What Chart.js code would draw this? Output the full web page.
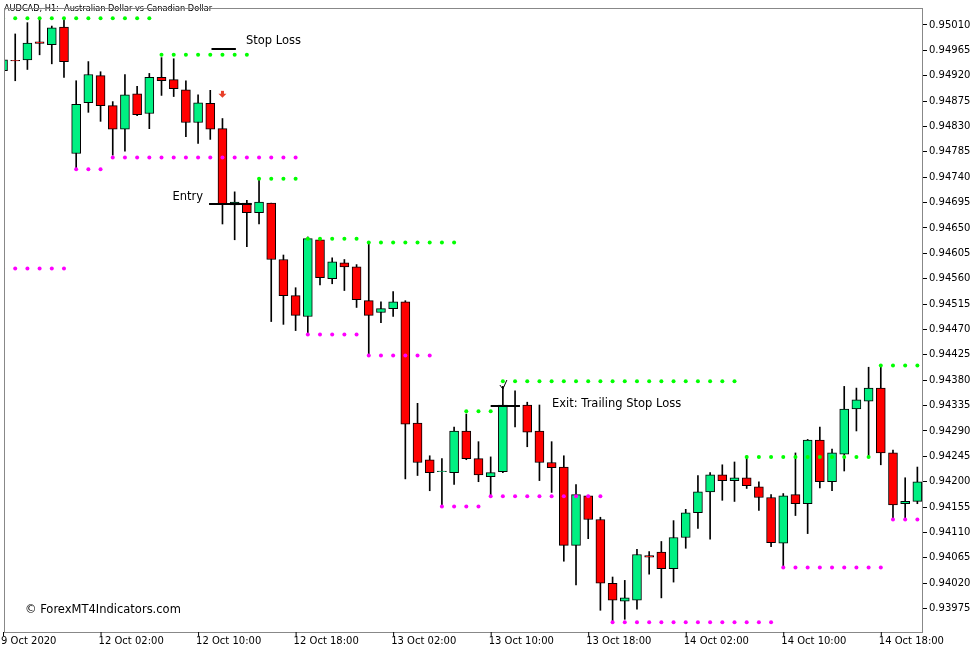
<!DOCTYPE html>
<html><head><meta charset="utf-8">
<script src="https://cdn.jsdelivr.net/npm/chart.js@4"></script>
<style>html,body{margin:0;padding:0;background:#fff}#w{width:977px;height:652px}</style>
</head><body><div id="w"><canvas id="c"></canvas></div>
<script>
const opens  = [0.94929,0.94947,0.94948,0.94980,0.94975,0.95006,0.94782,0.94872,0.94920,0.94867,0.94825,0.94888,0.94853,0.94917,0.94913,0.94895,0.94837,0.94871,0.94826,0.94691,0.94694,0.94677,0.94694,0.94594,0.94530,0.94493,0.94629,0.94560,0.94588,0.94581,0.94521,0.94500,0.94507,0.94519,0.94304,0.94239,0.94218,0.94216,0.94290,0.94241,0.94209,0.94218,0.94334,0.94336,0.94290,0.94234,0.94226,0.94087,0.94175,0.94133,0.94020,0.93988,0.93990,0.94069,0.94075,0.94046,0.94101,0.94145,0.94182,0.94212,0.94202,0.94207,0.94191,0.94172,0.94091,0.94177,0.94161,0.94274,0.94200,0.94249,0.94329,0.94343,0.94366,0.94251,0.94161,0.94165];
const highs  = [0.94952,0.94994,0.95014,0.95019,0.95008,0.95022,0.94911,0.94945,0.94927,0.94874,0.94922,0.94901,0.94924,0.94952,0.94950,0.94911,0.94886,0.94894,0.94844,0.94714,0.94699,0.94737,0.94694,0.94602,0.94544,0.94634,0.94631,0.94597,0.94594,0.94585,0.94624,0.94519,0.94537,0.94521,0.94339,0.94246,0.94241,0.94297,0.94320,0.94271,0.94244,0.94369,0.94361,0.94341,0.94336,0.94271,0.94246,0.94195,0.94176,0.94137,0.94031,0.94025,0.94080,0.94076,0.94094,0.94131,0.94151,0.94211,0.94216,0.94230,0.94235,0.94246,0.94200,0.94177,0.94179,0.94251,0.94275,0.94297,0.94258,0.94369,0.94366,0.94403,0.94403,0.94256,0.94207,0.94226];
const lows   = [0.94925,0.94911,0.94931,0.94957,0.94941,0.94917,0.94754,0.94855,0.94839,0.94779,0.94786,0.94849,0.94826,0.94885,0.94883,0.94812,0.94800,0.94807,0.94657,0.94629,0.94617,0.94657,0.94484,0.94479,0.94468,0.94463,0.94549,0.94551,0.94539,0.94509,0.94424,0.94482,0.94493,0.94205,0.94211,0.94184,0.94158,0.94195,0.94239,0.94200,0.94174,0.94216,0.94297,0.94262,0.94202,0.94181,0.94059,0.94017,0.94099,0.93972,0.93951,0.93956,0.93974,0.94036,0.93994,0.94022,0.94082,0.94117,0.94098,0.94167,0.94165,0.94188,0.94149,0.94085,0.94046,0.94140,0.94108,0.94189,0.94184,0.94219,0.94290,0.94246,0.94230,0.94131,0.94131,0.94161];
const closes = [0.94948,0.94946,0.94978,0.94977,0.95005,0.94945,0.94869,0.94922,0.94867,0.94825,0.94886,0.94851,0.94917,0.94911,0.94897,0.94837,0.94872,0.94825,0.94692,0.94696,0.94677,0.94696,0.94594,0.94530,0.94495,0.94631,0.94562,0.94590,0.94581,0.94523,0.94495,0.94507,0.94519,0.94302,0.94234,0.94216,0.94219,0.94290,0.94241,0.94212,0.94216,0.94336,0.94335,0.94288,0.94234,0.94225,0.94087,0.94177,0.94133,0.94020,0.93990,0.93994,0.94071,0.94066,0.94046,0.94101,0.94145,0.94182,0.94212,0.94202,0.94207,0.94193,0.94172,0.94092,0.94175,0.94161,0.94274,0.94200,0.94251,0.94329,0.94345,0.94366,0.94251,0.94159,0.94165,0.94200];
// trailing stop segments: [firstBar, lastBar, price]
const upperStops = [[0,12,0.95022],[13,20,0.94957],[21,24,0.94737],[25,29,0.94631],[30,37,0.94624],[38,40,0.94325],[41,60,0.94378],[61,71,0.94244],[72,75,0.94406]];
const lowerStops = [[0,5,0.94578],[6,8,0.94754],[9,24,0.94775],[25,29,0.94461],[30,35,0.94424],[36,39,0.94156],[40,49,0.94174],[50,63,0.93951],[64,72,0.94048],[73,75,0.94133]];
const yTicks = [0.93975,0.94020,0.94065,0.94110,0.94155,0.94200,0.94245,0.94290,0.94335,0.94380,0.94425,0.94470,0.94515,0.94560,0.94605,0.94650,0.94695,0.94740,0.94785,0.94830,0.94875,0.94920,0.94965,0.95010];
const xTickBars = [0,8,16,24,32,40,48,56,64,72];
const xTickLabels = ['9 Oct 2020','12 Oct 02:00','12 Oct 10:00','12 Oct 18:00','13 Oct 02:00','13 Oct 10:00','13 Oct 18:00','14 Oct 02:00','14 Oct 10:00','14 Oct 18:00'];
const stopLossMark = [17.1,19.1,0.94968];
const entryMark = [16.9,20.4,0.94692];
const exitMark = [40,42.4,0.94334];
const arrowMark = [18,0.94886];
const checkMark = [41,0.94375];

const UP='rgb(0,240,130)', DN='#ff0000';
const idx = opens.map((_,i)=>i);
const bodies = idx.map(i=>({x:i,y:[opens[i],closes[i]]}));
const wicks = idx.map(i=>({x:i,y:[lows[i],highs[i]]}));
const bodyCol = idx.map(i=>closes[i]>=opens[i]?UP:DN);
function dots(segs){const a=[];segs.forEach(s=>{for(let i=s[0];i<=s[1];i++)a.push({x:i,y:s[2]});});return a;}

const deco = {id:'deco',
 afterDatasetsDraw(ch){
  const c=ch.ctx,a=ch.chartArea,xs=ch.scales.x,ys=ch.scales.y;
  c.save();
  c.strokeStyle='#000';c.lineWidth=2;
  [stopLossMark,entryMark,exitMark].forEach(m=>{const y=Math.round(ys.getPixelForValue(m[2]));c.beginPath();c.moveTo(xs.getPixelForValue(m[0]),y);c.lineTo(xs.getPixelForValue(m[1]),y);c.stroke();});
  let ax=xs.getPixelForValue(arrowMark[0]),ay=ys.getPixelForValue(arrowMark[1]);
  c.fillStyle='#e8402a';c.fillRect(ax-1.5,ay-4,3,4);c.beginPath();c.moveTo(ax-4,ay-1);c.lineTo(ax+4,ay-1);c.lineTo(ax,ay+3);c.closePath();c.fill();
  let kx=xs.getPixelForValue(checkMark[0]),ky=ys.getPixelForValue(checkMark[1]);
  c.lineWidth=1;c.beginPath();c.moveTo(kx-3,ky+2);c.lineTo(kx,ky+6);c.lineTo(kx+4,ky-3);c.stroke();
  c.fillStyle='#000';c.font='11.5px "DejaVu Sans"';c.textBaseline='middle';
  c.fillText('Stop Loss',246,41);
  c.textAlign='right';c.fillText('Entry',203,197);c.textAlign='left';
  c.fillText('Exit: Trailing Stop Loss',552,404);
  c.font='11.5px "DejaVu Sans"';c.fillText('© ForexMT4Indicators.com',25,610);
  c.font='8.2px "DejaVu Sans"';c.fillText('AUDCAD, H1:  Australian Dollar vs Canadian Dollar',4,9);
  c.strokeStyle='#888';c.lineWidth=1;c.strokeRect(a.left+0.5,a.top+0.5,a.right-a.left,a.bottom-a.top);
  c.strokeStyle='#000';c.fillStyle='#000';c.font='10px "DejaVu Sans"';c.textBaseline='top';
  xTickBars.forEach((b,k)=>{const x=xs.getPixelForValue(b);c.beginPath();c.moveTo(x+0.5,a.bottom);c.lineTo(x+0.5,a.bottom+4);c.stroke();c.fillText(xTickLabels[k],x-2,a.bottom+4);});
  c.restore();
 }};

new Chart(document.getElementById('c'),{
 type:'bar',
 data:{datasets:[
  {type:'scatter',data:dots(upperStops),pointRadius:2,pointBackgroundColor:'#00ff00',pointBorderWidth:0},
  {type:'scatter',data:dots(lowerStops),pointRadius:2,pointBackgroundColor:'#ff00ff',pointBorderWidth:0},
  {data:bodies,backgroundColor:bodyCol,borderColor:'#000',borderWidth:1,borderSkipped:false,barThickness:9,grouped:false},
  {data:wicks,backgroundColor:'#000',borderWidth:0,barThickness:1,grouped:false}
 ]},
 options:{responsive:true,maintainAspectRatio:false,animation:false,
  layout:{padding:{left:0,top:4,bottom:20,right:0}},
  plugins:{legend:{display:false},tooltip:{enabled:false}},
  scales:{
   x:{type:'linear',display:false,min:0.08,max:75.38,offset:false},
   y:{position:'right',min:0.939335,max:0.95040,
      afterBuildTicks(s){s.ticks=yTicks.map(v=>({value:v}));},
      afterFit(s){s.width=55;},
      ticks:{callback:v=>v.toFixed(5),color:'#000',font:{family:'DejaVu Sans',size:10},padding:2},
      grid:{drawOnChartArea:false,tickLength:5,color:'#000'},border:{color:'#000'}}
  }},
 plugins:[deco]
});
</script></body></html>
